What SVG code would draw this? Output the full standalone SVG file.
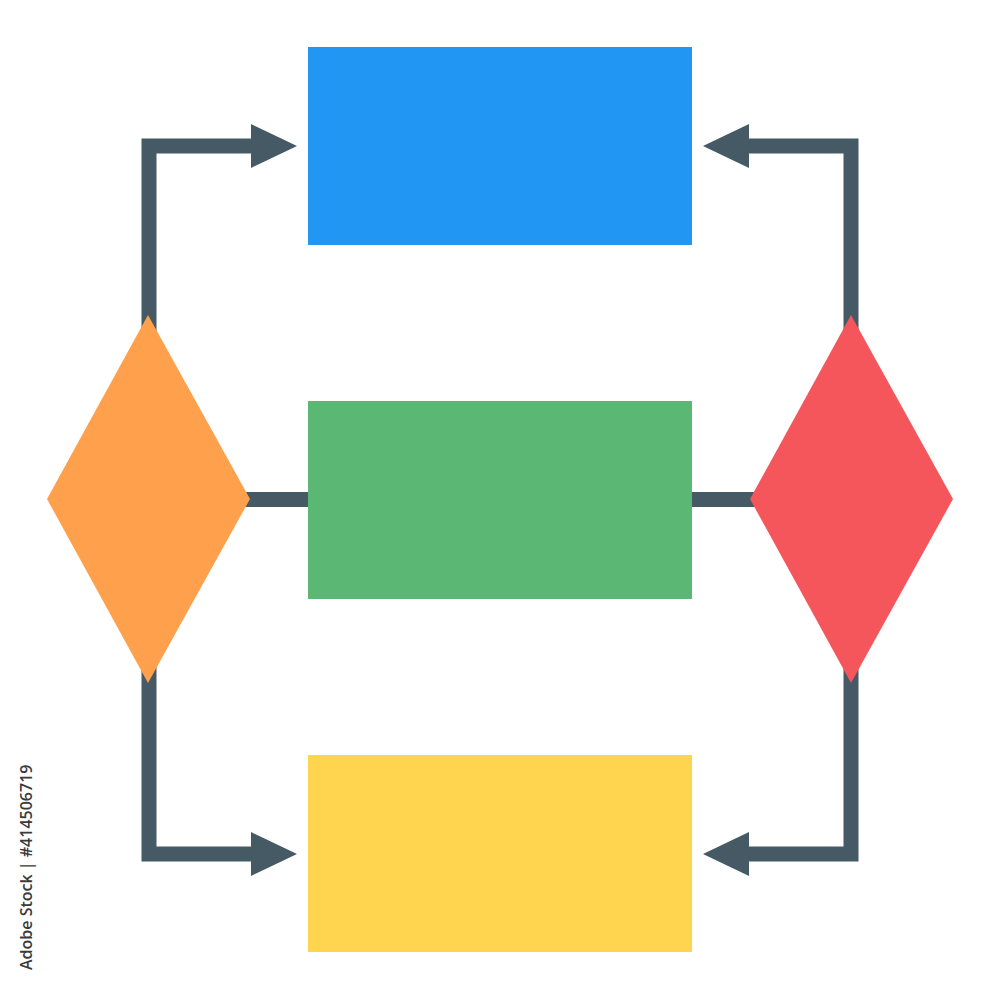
<svg xmlns="http://www.w3.org/2000/svg" width="1000" height="1000" viewBox="0 0 1000 1000">
<style>
.ln{fill:none;stroke:#455A64;stroke-width:15;stroke-linejoin:miter;stroke-linecap:butt}
.ah{fill:#455A64}
</style>
<rect width="1000" height="1000" fill="#ffffff"/>
<g id="connectors">
<polyline class="ln" points="149,340 149,146 255,146"/>
<polygon class="ah" points="251,124 297,146 251,168"/>
<polyline class="ln" points="851,340 851,146 745,146"/>
<polygon class="ah" points="749,124 703,146 749,168"/>
<polyline class="ln" points="149,660 149,854 255,854"/>
<polygon class="ah" points="251,832 297,854 251,876"/>
<polyline class="ln" points="851,660 851,854 745,854"/>
<polygon class="ah" points="749,832 703,854 749,876"/>
<line class="ln" x1="245" y1="499.5" x2="310" y2="499.5"/>
<line class="ln" x1="690" y1="499.5" x2="755" y2="499.5"/>
</g>
<g id="box-top"><rect x="308" y="47" width="384" height="198" fill="#2196F3"/></g>
<g id="box-middle"><rect x="308" y="401" width="384" height="198" fill="#5BB774"/></g>
<g id="box-bottom"><rect x="308" y="755" width="384" height="197" fill="#FFD54F"/></g>
<g id="decision-left"><polygon points="148,315 250,499 148,683 47,499" fill="#FFA04D"/></g>
<g id="decision-right"><polygon points="851,315 953,499 851,683 750,499" fill="#F4565B"/></g>
<text transform="translate(32,970) rotate(-90)" font-family="'Open Sans','Noto Sans',sans-serif" font-size="16" font-weight="600" fill="#3a3a3a">Adobe Stock | #414506719</text>
</svg>
